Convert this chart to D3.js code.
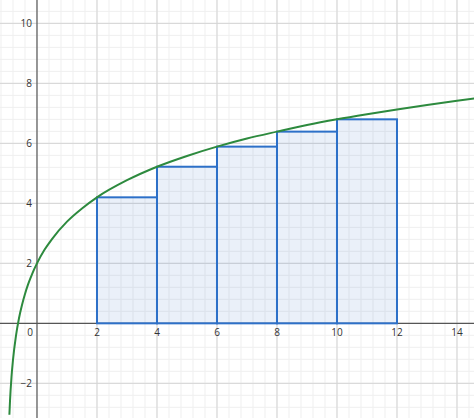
<!DOCTYPE html>
<html>
<head>
<meta charset="utf-8">
<script src="https://cdn.jsdelivr.net/npm/d3@7"></script>
<style>
  body { margin: 0; background: #fff; }
  svg { display: block; font-family: "Open Sans", sans-serif; }
</style>
</head>
<body>
<svg id="chart"></svg>
<script>
// curve samples
const curveX = [-0.92, -0.9, -0.85, -0.8, -0.7, -0.6, -0.5, -0.4, -0.3, -0.2, -0.1, 0, 0.25, 0.5, 1, 1.5, 2, 3, 4, 5, 6, 7, 8, 9, 10, 11, 12, 13, 14, 14.6];
const curveY = [-3.05, -2.6, -1.79, -1.22, -0.41, 0.17, 0.61, 0.98, 1.29, 1.55, 1.79, 2.0, 2.45, 2.81, 3.39, 3.83, 4.2, 4.77, 5.22, 5.58, 5.89, 6.16, 6.39, 6.61, 6.8, 6.97, 7.13, 7.28, 7.42, 7.5];

// rectangle left edges and heights
const barX = [2, 4, 6, 8, 10];
const barH = [4.2, 5.22, 5.89, 6.39, 6.8];
const barW = 2;

const xTicks = [0, 2, 4, 6, 8, 10, 12, 14];
const yTicks = [-2, 2, 4, 6, 8, 10];

const width = 474, height = 418;
const svg = d3.select('#chart').attr('width', width).attr('height', height);

const x = d3.scaleLinear().domain([-1.233, 14.567]).range([0, width]);
const y = d3.scaleLinear().domain([-3.156, 10.778]).range([height, 0]);

// minor grid
const grid = svg.append('g');
grid.selectAll('line.mx')
  .data(d3.range(-1.2, 14.6, 0.4))
  .join('line')
  .attr('x1', d => x(d)).attr('x2', d => x(d))
  .attr('y1', 0).attr('y2', height)
  .attr('stroke', '#efefef').attr('stroke-width', 1);
grid.selectAll('line.my')
  .data(d3.range(-3.2, 10.8, 0.4))
  .join('line')
  .attr('y1', d => y(d)).attr('y2', d => y(d))
  .attr('x1', 0).attr('x2', width)
  .attr('stroke', '#efefef').attr('stroke-width', 1);

// major grid
grid.selectAll('line.Mx')
  .data(d3.range(-2, 16, 2).filter(d => d !== 0))
  .join('line')
  .attr('x1', d => x(d)).attr('x2', d => x(d))
  .attr('y1', 0).attr('y2', height)
  .attr('stroke', '#d4d4d4');
grid.selectAll('line.My')
  .data(d3.range(-2, 12, 2).filter(d => d !== 0))
  .join('line')
  .attr('y1', d => y(d)).attr('y2', d => y(d))
  .attr('x1', 0).attr('x2', width)
  .attr('stroke', '#d4d4d4');

// axes
svg.append('line')
  .attr('x1', x(0)).attr('x2', x(0)).attr('y1', 0).attr('y2', height)
  .attr('stroke', '#555').attr('stroke-width', 1.2);
svg.append('line')
  .attr('x1', 0).attr('x2', width).attr('y1', y(0)).attr('y2', y(0))
  .attr('stroke', '#555').attr('stroke-width', 1.2);

// rectangles
svg.append('g')
  .selectAll('rect')
  .data(barX)
  .join('rect')
  .attr('x', d => x(d))
  .attr('width', x(barW) - x(0))
  .attr('y', (d, i) => y(barH[i]))
  .attr('height', (d, i) => y(0) - y(barH[i]))
  .attr('fill', 'rgba(45,112,200,0.1)')
  .attr('stroke', '#2d70c8')
  .attr('stroke-width', 2);

// curve
svg.append('path')
  .datum(curveX.map((d, i) => [d, curveY[i]]))
  .attr('fill', 'none')
  .attr('stroke', '#2d8a3e')
  .attr('stroke-width', 2)
  .attr('d', d3.line().x(d => x(d[0])).y(d => y(d[1])).curve(d3.curveMonotoneX));

// tick labels
const labels = svg.append('g')
  .attr('font-size', 10)
  .attr('fill', '#333');

labels.selectAll('text.x')
  .data(xTicks)
  .join('text')
  .attr('x', d => d === 0 ? x(0) - 7 : x(d))
  .attr('y', y(0) + 13)
  .attr('text-anchor', 'middle')
  .text(d => d);

labels.selectAll('text.y')
  .data(yTicks)
  .join('text')
  .attr('x', x(0) - 5)
  .attr('y', d => y(d) + 3.5)
  .attr('text-anchor', 'end')
  .text(d => d < 0 ? '\u2212' + Math.abs(d) : d);
</script>
</body>
</html>
